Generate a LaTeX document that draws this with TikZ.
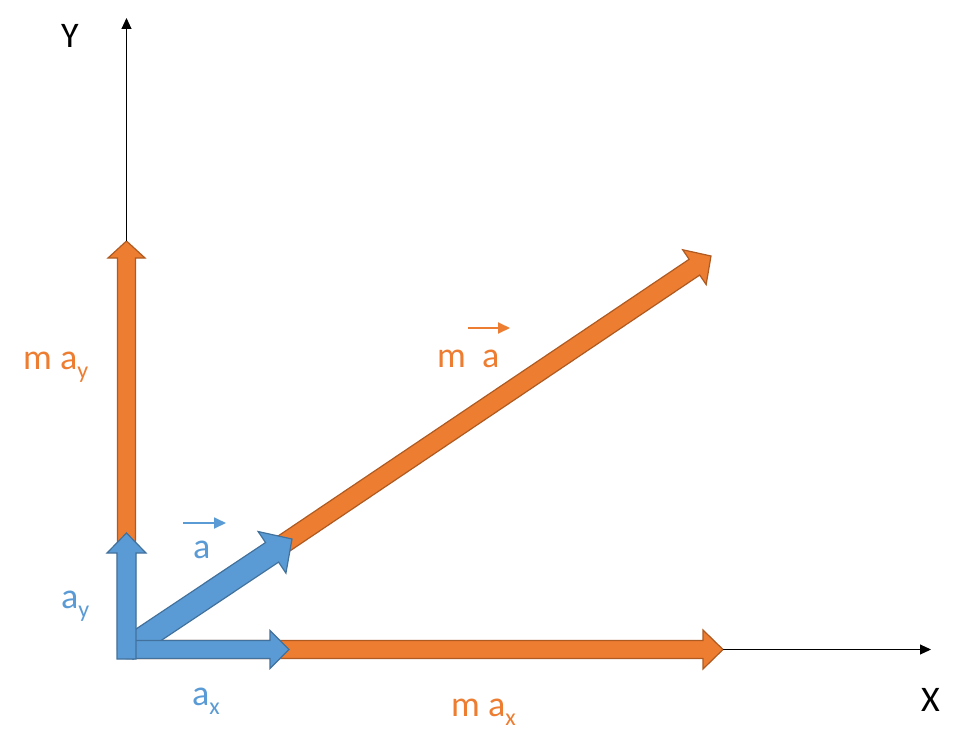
\documentclass[tikz,border=0pt]{standalone}
\usepackage{fontspec}
\setmainfont{Carlito}
\usetikzlibrary{calc}
\usetikzlibrary{arrows.meta}
\definecolor{arancio}{HTML}{ED7D31}
\definecolor{arancioscuro}{HTML}{AE5A21}
\definecolor{azzurro}{HTML}{5B9BD5}
\definecolor{azzurroscuro}{HTML}{41719C}
\tikzstyle{frecciaA} = [fill=arancio, draw=arancioscuro, line width=1.2pt, line join=miter]
\tikzstyle{frecciaB} = [fill=azzurro, draw=azzurroscuro, line width=1.2pt, line join=miter]
\tikzstyle{asse} = [line width=1pt, -{Triangle[length=11pt,width=10pt]}]
\tikzstyle{vett} = [line width=1.8pt, -{Triangle[length=12pt,width=11pt]}]
\tikzstyle{etichetta} = [anchor=base west, inner sep=0pt, font=\fontsize{36}{40}\selectfont]
% freccia a blocco: stile, coda, punta, mezza asta, mezza testa, lunghezza testa
\newcommand{\blocco}[6]{%
  \coordinate (bh) at ($(#3)!#6!(#2)$);
  \draw[#1] ($(#2)!#4!90:(#3)$) -- ($(bh)!#4!90:(#3)$) -- ($(bh)!#5!90:(#3)$) -- (#3)
    -- ($(bh)!#5!-90:(#3)$) -- ($(bh)!#4!-90:(#3)$) -- ($(#2)!#4!-90:(#3)$) -- cycle;}
\newcommand{\ped}[1]{\raisebox{-0.27em}{\fontsize{24}{24}\selectfont #1}}

\begin{document}
\begin{tikzpicture}[x=1pt,y=-1pt]
						\useasboundingbox (0,0) rectangle (963,752);
						\coordinate (O) at (126.5,649.5);
						\coordinate (Ob) at (126.5,659);
						\coordinate (may) at (126.5,241);
						\coordinate (max) at (723,649.5);
						\coordinate (ma) at (711,256);
						\coordinate (ay) at (126.5,533);
						\coordinate (ax) at (289,649.5);
						\coordinate (a) at (292,539);
						\coordinate (yfine) at (126.5,18);
						\coordinate (xfine) at (931,649.5);
						% vettori arancio
						\blocco{frecciaA}{O}{may}{9pt}{18.5pt}{17pt}
						\blocco{frecciaA}{O}{max}{9pt}{19.5pt}{20pt}
						\blocco{frecciaA}{O}{ma}{9.5pt}{21pt}{20pt}
						% vettori azzurri
						\blocco{frecciaB}{O}{a}{11.75pt}{25pt}{24pt}
						\blocco{frecciaB}{O}{ax}{9pt}{19pt}{19pt}
						\blocco{frecciaB}{Ob}{ay}{9.5pt}{19.5pt}{20pt}
						% assi
						\draw[asse] (may) -- (yfine);
						\draw[asse] (max) -- (xfine);
						\node[etichetta] (lY) at (61,48) {Y};
						\node[etichetta] (lX) at (921,711) {X};
						% etichette
						\node[etichetta,text=arancio] (lmay) at (23,369) {m~a\ped{y}};
						\node[etichetta,text=arancio] (lmax) at (451,716) {m~a\ped{x}};
						\node[etichetta,text=arancio] (lma) at (437,367) {m~~a};
						\coordinate (vmaS) at (468,328);
						\coordinate (vmaE) at (510,328);
						\draw[vett,arancio] (vmaS) -- (vmaE);
						\node[etichetta,text=azzurro] (la) at (193,558) {a};
						\coordinate (vaS) at (183,523);
						\coordinate (vaE) at (226,523);
						\draw[vett,azzurro] (vaS) -- (vaE);
						\node[etichetta,text=azzurro] (lay) at (61,608) {a\ped{y}};
						\node[etichetta,text=azzurro] (lax) at (192,705) {a\ped{x}};
					\end{tikzpicture}
\end{document}
